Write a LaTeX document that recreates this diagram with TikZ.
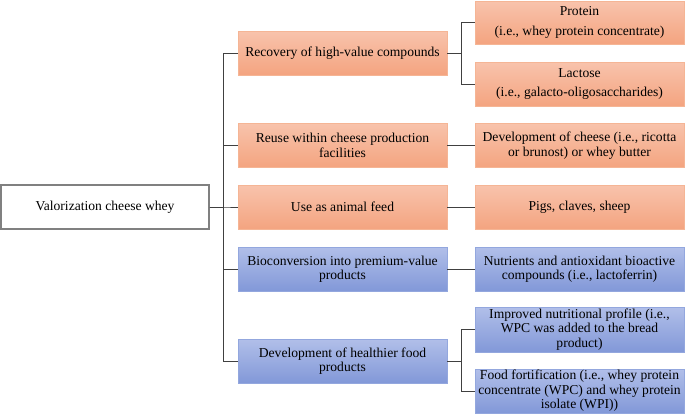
\documentclass[tikz,border=0pt]{standalone}
\usepackage{fontspec}
\setmainfont{Liberation Serif}
\definecolor{orTop}{HTML}{F8C3AC}
\definecolor{orBot}{HTML}{F4A480}
\definecolor{orBorder}{HTML}{F5B595}
\definecolor{blTop}{HTML}{B1BFE9}
\definecolor{blBot}{HTML}{8298D8}
\definecolor{blBorder}{HTML}{93A7DE}
\definecolor{lineC}{HTML}{404040}
\tikzset{
  basebox/.style={minimum width=209pt, minimum height=44pt, inner sep=0pt, align=center,
    font=\fontsize{13.6}{14.5}\selectfont, line width=0.8pt},
  orangebox/.style={basebox, draw=orBorder, top color=orTop, bottom color=orBot},
  bluebox/.style={basebox, draw=blBorder, top color=blTop, bottom color=blBot},
  rootbox/.style={basebox, minimum width=208pt, draw=gray, fill=white, line width=1.2pt},
  conn/.style={draw=lineC, line width=1pt}
}
\begin{document}
\begin{tikzpicture}[x=1pt,y=-1pt]
\useasboundingbox (0,0) rectangle (685,415);
\node[rootbox] (root) at (105,207) {Valorization cheese whey};
\node[orangebox] (m1) at (342.5,53) {Recovery of high-value compounds};
\node[orangebox] (m2) at (342.5,145.5) {Reuse within cheese production\\facilities};
\node[orangebox] (m3) at (342.5,207) {Use as animal feed};
\node[bluebox] (m4) at (342.5,269) {Bioconversion into premium-value\\products};
\node[bluebox] (m5) at (342.5,361) {Development of healthier food\\products};
\node[orangebox, minimum height=43pt] (r1) at (579.5,22.5) {Protein\\[5pt](i.e., whey protein concentrate)};
\node[orangebox] (r2) at (579.5,84) {Lactose\\[5pt](i.e., galacto-oligosaccharides)};
\node[orangebox] (r3) at (579.5,145.5) {Development of cheese (i.e., ricotta\\or brunost) or whey butter};
\node[orangebox] (r4) at (579.5,207) {Pigs, claves, sheep};
\node[bluebox] (r5) at (579.5,269) {Nutrients and antioxidant bioactive\\compounds (i.e., lactoferrin)};
\node[bluebox, minimum height=45pt] (r6) at (579.5,329.5) {Improved nutritional profile (i.e.,\\WPC was added to the bread\\product)};
\node[bluebox] (r7) at (579.5,391) {Food fortification (i.e., whey protein\\concentrate (WPC) and whey protein\\isolate (WPI))};
\foreach \m in {m1,m2,m3,m4,m5}{
  \draw[conn] (root.east) -- ++(14,0) |- (\m.west);
}
\draw[conn] (m1.east) -- ++(14,0) |- (r1.west);
\draw[conn] (m1.east) -- ++(14,0) |- (r2.west);
\draw[conn] (m2.east) -- (r3.west);
\draw[conn] (m3.east) -- (r4.west);
\draw[conn] (m4.east) -- (r5.west);
\draw[conn] (m5.east) -- ++(14,0) |- (r6.west);
\draw[conn] (m5.east) -- ++(14,0) |- (r7.west);
\end{tikzpicture}
\end{document}
